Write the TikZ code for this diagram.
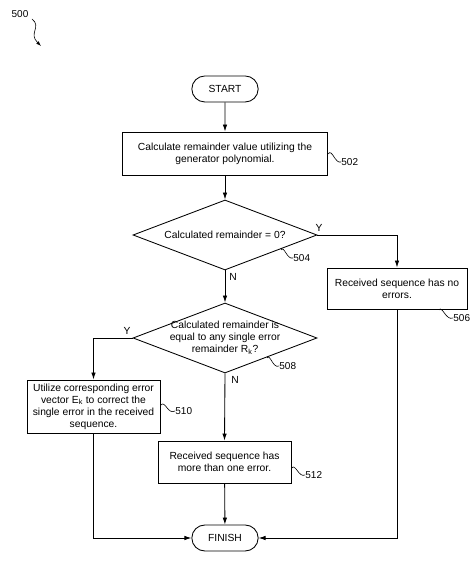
\documentclass[tikz,border=0pt]{standalone}
\usepackage{fontspec}
\setmainfont{Liberation Sans}
\usetikzlibrary{shapes.geometric,shapes.misc,arrows.meta,positioning}

\begin{document}
\begin{tikzpicture}[x=1pt,y=1pt,
      line width=0.85pt,
      every node/.style={font=\fontsize{10.3}{12}\selectfont},
      term/.style={draw, rounded rectangle, minimum width=73pt, minimum height=26pt},
      procbox/.style={draw, rectangle, align=center, inner sep=2pt},
      decide/.style={draw, diamond, aspect=2.6, align=center,
                     minimum width=184pt, minimum height=70pt, inner sep=0pt},
      flow/.style={-{Latex[length=7pt,width=4.5pt]}},
      refnum/.style={font=\fontsize{10}{11}\selectfont, inner sep=0pt},
      lead/.style={line width=0.6pt}]
    \useasboundingbox (0,0) rectangle (474,585);

    % flow chart boxes
    \node[term] (start) at (225,496) {START};
    \node[procbox, minimum width=205pt, minimum height=43pt] (calc) at (225,431.5)
        {Calculate remainder value utilizing the\\ generator polynomial.};
    \node[decide] (zero) at (225,350) {Calculated remainder = 0?};
    \node[procbox, minimum width=140pt, minimum height=41pt] (noerr) at (397,296.5)
        {Received sequence has no\\ errors.};
    \node[decide, inner sep=-5pt] (single) at (225,247)
        {Calculated remainder is\\ equal to any single error\\ remainder R\textsubscript{k}?};
    \node[procbox, minimum width=133pt, minimum height=53pt] (fix) at (93.5,178.5)
        {Utilize corresponding error\\ vector E\textsubscript{k} to correct the\\ single error in the received\\ sequence.};
    \node[procbox, minimum width=133pt, minimum height=42pt] (multi) at (224.5,123)
        {Received sequence has\\ more than one error.};
    \node[term] (finish) at (225,47) {FINISH};

    % connectors
    \draw[flow] (start) -- (calc);
    \draw[flow] (calc) -- (zero);
    \draw[flow] (zero.south) -- (single.north);
    \draw[flow] (zero.east) -| (noerr.north);
    \draw[flow] (single.west) -| (fix.north);
    \draw[flow] (single.south) -- (multi.north);
    \draw[flow] (multi) -- (finish);
    \draw[flow] (fix.south) |- (finish.west);
    \draw[flow] (noerr.south) |- (finish.east);

    % Y / N labels
    \node (zeroy) at (319,357) {Y};
    \node (zeron) at (233,308) {N};
    \node (singley) at (127,254) {Y};
    \node (singlen) at (235,205) {N};

    % reference numerals
    \node[refnum] (n500) at (20,571) {500};
    \draw[lead, -{Latex[length=5pt,width=3.5pt]}] (32,566) .. controls (42,558) and (28,552) .. (41,539);
    \node[refnum, anchor=west] (n502) at (341,423) {502};
    \draw[lead] (328,431) .. controls (332,437) and (335,421) .. (n502.west);
    \node[refnum, anchor=west] (n504) at (293,327) {504};
    \draw[lead] (281,335) .. controls (284,340) and (287,325) .. (n504.west);
    \node[refnum, anchor=west] (n506) at (453,267) {506};
    \draw[lead] (439,275) .. controls (442,280) and (446,264) .. (n506.west);
    \node[refnum, anchor=west] (n508) at (279,219) {508};
    \draw[lead] (267,227) .. controls (270,232) and (273,216) .. (n508.west);
    \node[refnum, anchor=west] (n510) at (175,174) {510};
    \draw[lead] (161,180) .. controls (165,185) and (168,170) .. (n510.west);
    \node[refnum, anchor=west] (n512) at (305,110) {512};
    \draw[lead] (292,117) .. controls (295,122) and (299,107) .. (n512.west);
  \end{tikzpicture}
\end{document}
